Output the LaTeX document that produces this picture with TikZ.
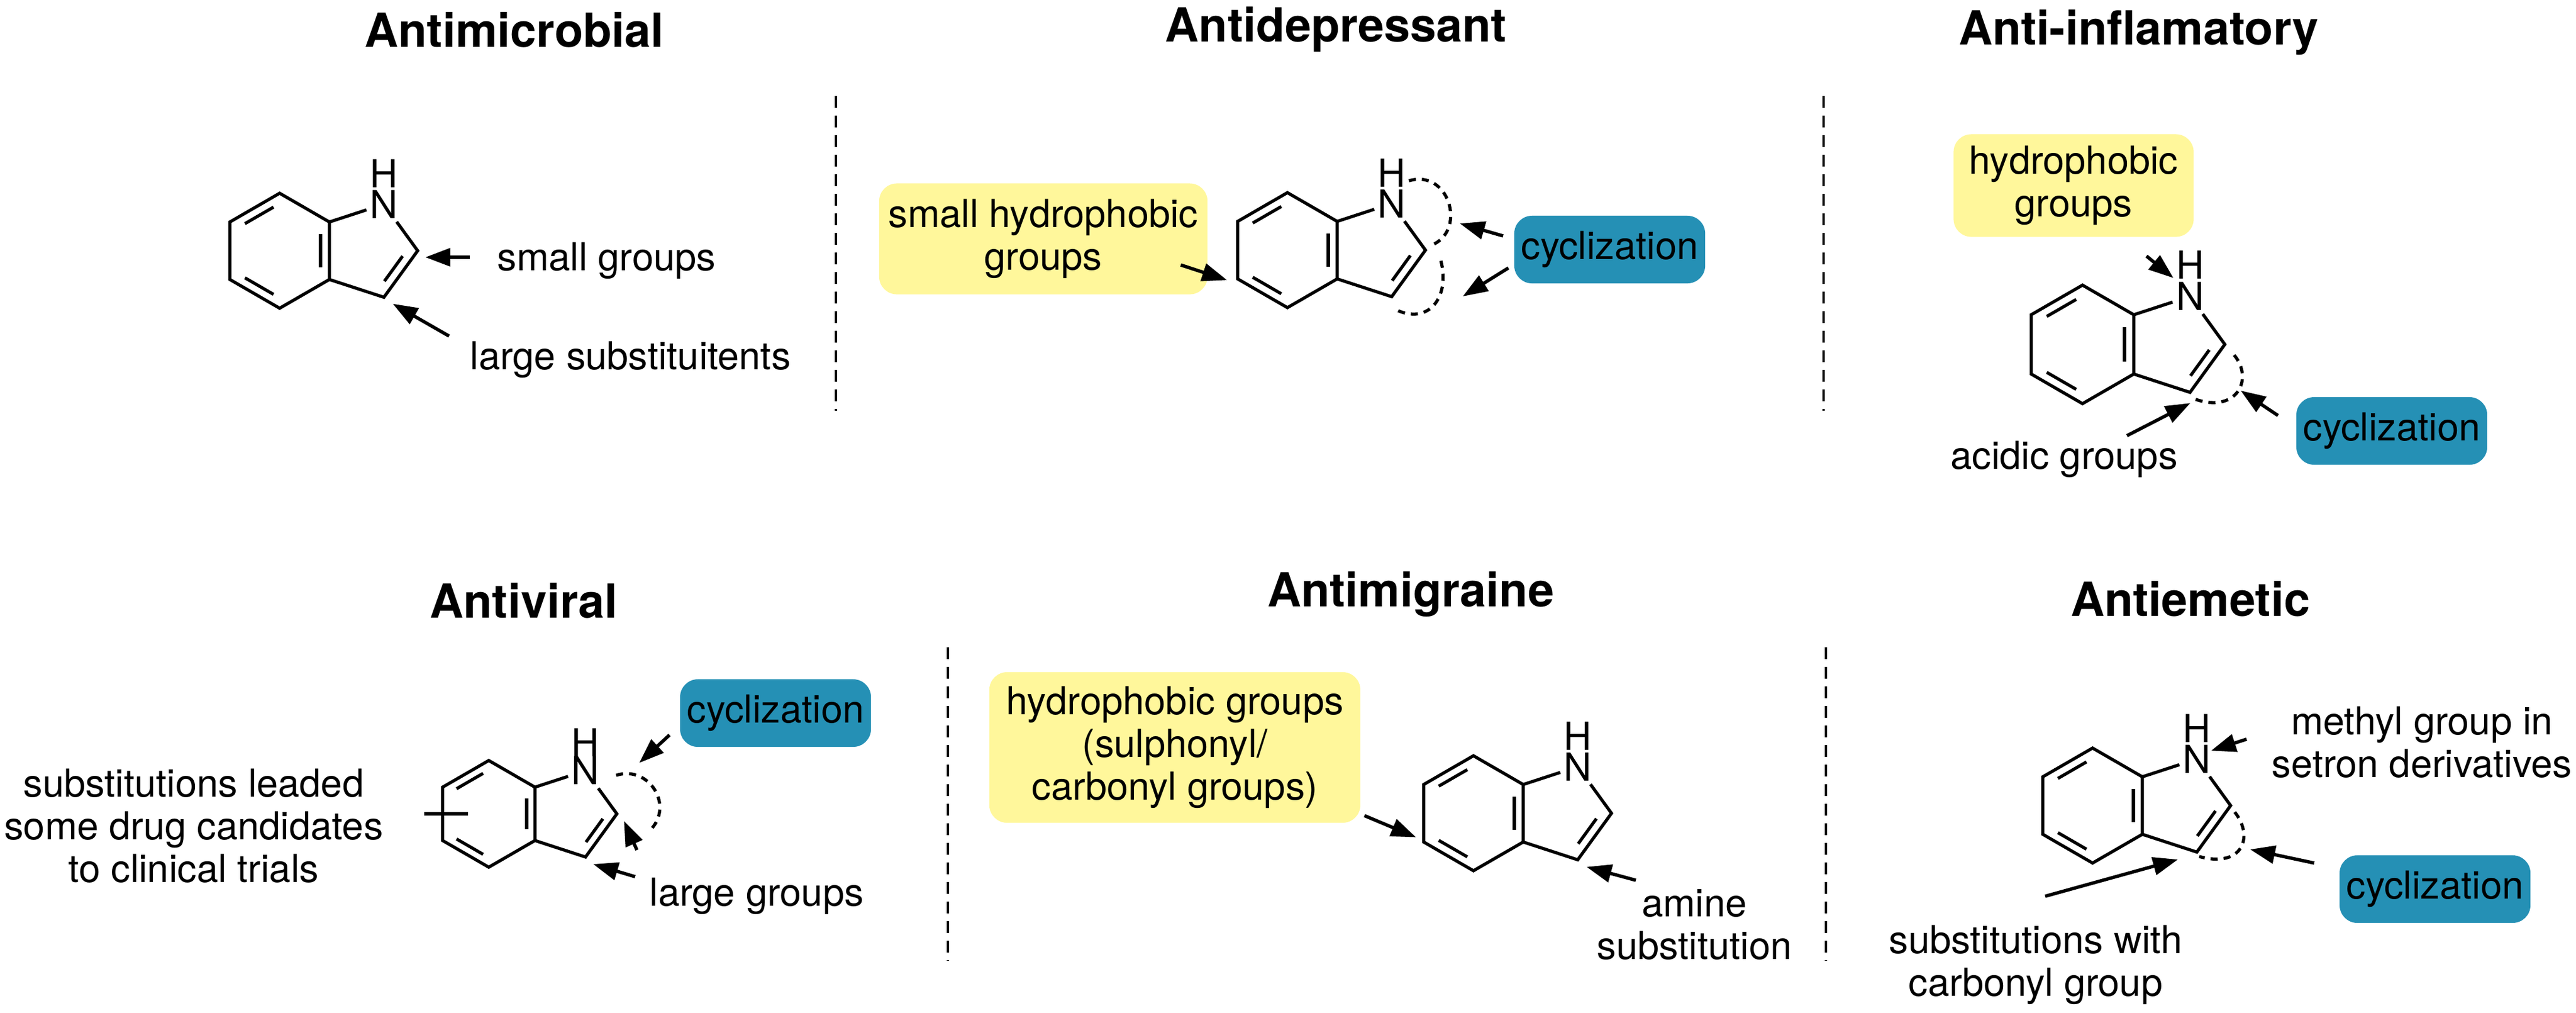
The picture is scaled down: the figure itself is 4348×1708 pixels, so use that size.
\documentclass[tikz,border=0pt]{standalone}
\usepackage{fontspec}
\setmainfont{TeX Gyre Heros}
\usetikzlibrary{arrows.meta,calc}

\definecolor{hyyellow}{HTML}{FFF79B}
\definecolor{cycteal}{HTML}{2590B5}

% indole skeleton: name, x, y (hexagon centre), bond length
\newcommand{\indole}[4]{%
  \begin{scope}[shift={(#2,#3)},scale=#4/97]
    \coordinate (#1-ctr) at (0,0);
    \coordinate (#1-top) at (0,-97);
    \coordinate (#1-c7a) at (84,-48.5);
    \coordinate (#1-c3a) at (84,48.5);
    \coordinate (#1-bot) at (0,97);
    \coordinate (#1-ll) at (-84,48.5);
    \coordinate (#1-ul) at (-84,-48.5);
    \coordinate (#1-c2) at (233,0);
    \coordinate (#1-c3) at (176,78.5);
    \coordinate (#1-pc) at (151,0);
    \node[atom] (#1-n) at (176,-78.5) {N};
    \node[atom] (#1-h) at (176,-130) {H};
  \end{scope}
  \draw[bond] (#1-c7a) -- (#1-top) -- (#1-ul) -- (#1-ll) -- (#1-bot) -- (#1-c3a) -- cycle;
  \draw[bond] (#1-c7a) -- (#1-n) -- (#1-c2) -- (#1-c3) -- (#1-c3a);
  \draw[bond] ($($(#1-top)!0.15!(#1-ul)$)!0.18!(#1-ctr)$) -- ($($(#1-top)!0.85!(#1-ul)$)!0.18!(#1-ctr)$);
  \draw[bond] ($($(#1-ll)!0.15!(#1-bot)$)!0.18!(#1-ctr)$) -- ($($(#1-ll)!0.85!(#1-bot)$)!0.18!(#1-ctr)$);
  \draw[bond] ($($(#1-c7a)!0.15!(#1-c3a)$)!0.18!(#1-ctr)$) -- ($($(#1-c7a)!0.85!(#1-c3a)$)!0.18!(#1-ctr)$);
  \draw[bond] ($($(#1-c2)!0.15!(#1-c3)$)!0.23!(#1-pc)$) -- ($($(#1-c2)!0.85!(#1-c3)$)!0.23!(#1-pc)$);
}

\begin{document}
\begin{tikzpicture}[x=0.01cm,y=-0.01cm,
    font=\fontsize{18.5pt}{20.5pt}\selectfont,
    bond/.style={line width=1.5pt, line join=miter},
    atom/.style={inner sep=1.5pt},
    arr/.style={line width=1.6pt, -{Triangle[length=0.42cm,width=0.3cm]}},
    ring/.style={line width=1.5pt, dash pattern=on 0.12cm off 0.1cm},
    sep/.style={line width=1.3pt, dash pattern=on 0.2cm off 0.13cm},
    title/.style={font=\fontsize{22.5pt}{26pt}\selectfont\bfseries},
    txt/.style={align=center, inner sep=0pt},
    hbox/.style={fill=hyyellow, rounded corners=0.3cm, align=center, inner sep=0pt},
    cbox/.style={fill=cycteal, rounded corners=0.3cm, align=center, inner sep=0pt,
      minimum width=3.22cm, minimum height=1.14cm}]

  \useasboundingbox (0,0) rectangle (4348,1708);

  % separators
  \coordinate (s1a) at (1411,162); \coordinate (s1b) at (1411,693);
  \coordinate (s2a) at (3078,162); \coordinate (s2b) at (3078,693);
  \coordinate (s3a) at (1600,1092); \coordinate (s3b) at (1600,1621);
  \coordinate (s4a) at (3082,1092); \coordinate (s4b) at (3082,1621);
  \draw[sep] (s1a) -- (s1b);
  \draw[sep] (s2a) -- (s2b);
  \draw[sep] (s3a) -- (s3b);
  \draw[sep] (s4a) -- (s4b);

  % titles
  \node[title] (t-mic) at (868,50) {Antimicrobial};
  \node[title] (t-dep) at (2255,50) {Antidepressant};
  \node[title] (t-inf) at (3610,55) {Anti-inflamatory};
  \node[title] (t-vir) at (884,1013) {Antiviral};
  \node[title] (t-mig) at (2381,1003) {Antimigraine};
  \node[title] (t-eme) at (3697,1010) {Antiemetic};

  % antimicrobial
  \indole{mic}{472}{423}{97}
  \node[txt, anchor=west] (mic-small) at (839,440) {small groups};
  \node[txt, anchor=west] (mic-large) at (793,607) {large substituitents};
  \coordinate (mic-a1) at (793,434);
  \coordinate (mic-a2) at (758,567);
  \draw[arr] (mic-a1) -- ($(mic-c2)+(13,11)$);
  \draw[arr] (mic-a2) -- ($(mic-c3)+(15,11)$);

  % antidepressant
  \indole{dep}{2173}{422}{97}
  \node[hbox, minimum width=5.54cm, minimum height=1.87cm] (dep-hyd) at (1761,403) {small hydrophobic\\groups};
  \node[cbox] (dep-cyc) at (2717,421) {cyclization};
  \coordinate (dep-a1) at (1993,447);
  \coordinate (dep-a2) at (2537,398);
  \coordinate (dep-a3) at (2546,452);
  \draw[arr] (dep-a1) -- ($(dep-ll)+(-18,2)$);
  \draw[ring] (2378,305) .. controls (2445,285) and (2475,385) .. (2420,412);
  \draw[ring] (2432,440) .. controls (2448,500) and (2412,550) .. (2355,522);
  \draw[arr] (dep-a2) -- (2464,377);
  \draw[arr] (dep-a3) -- (2469,500);

  % anti-inflamatory
  \indole{inf}{3515}{581}{100}
  \node[hbox, minimum width=4.05cm, minimum height=1.73cm] (inf-hyd) at (3500,313) {hydrophobic\\groups};
  \node[cbox] (inf-cyc) at (4037,727) {cyclization};
  \node[txt] (inf-acid) at (3484,775) {acidic groups};
  \coordinate (inf-a1) at (3623,432);
  \coordinate (inf-a2) at (3845,701);
  \coordinate (inf-a3) at (3590,735);
  \draw[arr] (inf-a1) -- ($(inf-h)+(-28,22)$);
  \draw[ring] (3771,599) .. controls (3805,640) and (3775,700) .. (3701,672);
  \draw[arr] (inf-a2) -- (3782,659);
  \draw[arr] (inf-a3) -- (3697,680);

  % antiviral
  \indole{vir}{825}{1373}{90}
  \draw[bond] ($($(vir-ul)!0.5!(vir-ll)$)+(-31,0)$) -- ($($(vir-ul)!0.5!(vir-ll)$)+(43,0)$);
  \node[txt] (vir-sub) at (327,1393) {substitutions leaded\\some drug candidates\\to clinical trials};
  \node[cbox] (vir-cyc) at (1309,1203) {cyclization};
  \node[txt, anchor=west] (vir-large) at (1096,1512) {large groups};
  \coordinate (vir-a1) at (1130,1240);
  \coordinate (vir-a2) at (1075,1434);
  \coordinate (vir-a3) at (1072,1479);
  \draw[ring] (1040,1308) .. controls (1095,1290) and (1140,1360) .. (1096,1402);
  \draw[arr] (vir-a1) -- (1079,1287);
  \draw[arr] (vir-a2) -- ($(vir-c2)+(12,12)$);
  \draw[arr] (vir-a3) -- ($(vir-c3)+(13,12)$);

  % antimigraine
  \indole{mig}{2487}{1372}{97}
  \node[hbox, minimum width=6.26cm, minimum height=2.54cm] (mig-hyd) at (1983,1261) {hydrophobic groups\\(sulphonyl/\\carbonyl groups)};
  \node[txt] (mig-amine) at (2860,1560) {amine\\substitution};
  \coordinate (mig-a1) at (2303,1376);
  \coordinate (mig-a2) at (2761,1485);
  \draw[arr] (mig-a1) -- ($(mig-ll)+(-13,-8)$);
  \draw[arr] (mig-a2) -- ($(mig-c3)+(15,12)$);

  % antiemetic
  \indole{eme}{3532}{1359}{97}
  \node[txt] (eme-me) at (4088,1252) {methyl group in\\setron derivatives};
  \node[cbox] (eme-cyc) at (4110,1500) {cyclization};
  \node[txt] (eme-sub) at (3436,1628) {substitutions with\\carbonyl group};
  \coordinate (eme-a1) at (3792,1247);
  \coordinate (eme-a2) at (3906,1456);
  \coordinate (eme-a3) at (3452,1512);
  \draw[arr] (eme-a1) -- ($(eme-n)+(24,-14)$);
  \draw[ring] (3772,1370) .. controls (3805,1412) and (3785,1465) .. (3712,1445);
  \draw[arr] (eme-a2) -- (3798,1433);
  \draw[arr] (eme-a3) -- (3676,1450);
\end{tikzpicture}
\end{document}
